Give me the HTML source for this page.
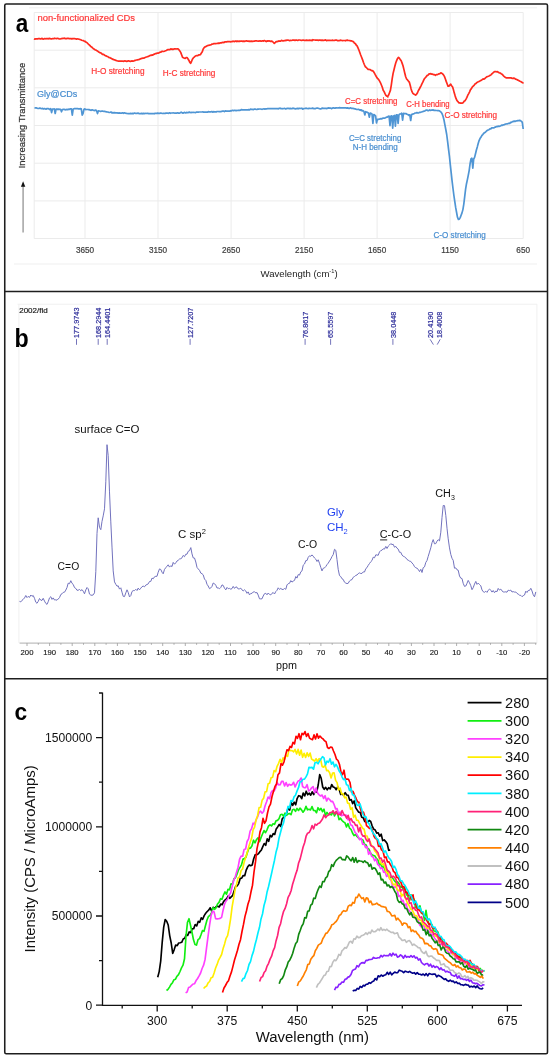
<!DOCTYPE html><html><head><meta charset="utf-8"><title>Figure</title><style>html,body{margin:0;padding:0;background:#fff;}svg{display:block;}text{font-family:"Liberation Sans",Arial,sans-serif;}</style></head><body>
<svg width="550" height="1057" viewBox="0 0 550 1057">
<rect x="0" y="0" width="550" height="1057" fill="#fff"/>
<path d="M29 7.8H537M14 264H537" stroke="#efefef" stroke-width="1" fill="none"/>
<path d="M34.2 12.5H523.2M34.2 50.2H523.2M34.2 87.8H523.2M34.2 125.5H523.2M34.2 163.2H523.2M34.2 200.9H523.2M34.2 238.5H523.2M34.2 12.5V238.5M85.0 12.5V238.5M158.0 12.5V238.5M231.1 12.5V238.5M304.1 12.5V238.5M377.1 12.5V238.5M450.1 12.5V238.5M523.2 12.5V238.5" stroke="#ebebeb" stroke-width="1" fill="none"/>
<path d="M34.0 38.7L34.9 39.2L35.8 38.8L36.7 38.9L37.6 38.9L38.5 38.7L39.4 38.6L40.3 38.9L41.2 38.8L42.1 38.4L43.0 39.2L43.9 38.9L44.8 38.5L45.7 38.8L46.6 38.6L47.5 38.6L48.4 38.8L49.3 38.4L50.2 38.7L51.1 38.9L52.0 38.8L52.9 38.5L53.8 38.7L54.7 38.2L55.6 38.5L56.5 38.6L57.4 38.3L58.3 38.5L59.2 38.9L60.1 39.0L61.0 38.7L61.9 38.7L62.8 38.3L63.7 38.3L64.6 38.2L65.5 38.6L66.4 38.7L67.3 38.4L68.2 38.3L69.1 38.6L70.0 38.6L70.9 38.6L71.8 38.9L72.7 38.6L73.6 38.7L74.5 38.5L75.4 38.8L76.3 39.1L77.2 38.9L78.1 39.0L79.0 39.2L79.9 39.5L80.8 39.8L81.7 40.2L82.6 40.5L83.5 40.6L84.4 41.3L85.3 41.4L86.2 42.3L87.1 42.7L88.0 43.7L88.9 44.7L89.8 45.4L90.7 46.4L91.6 46.9L92.5 47.8L93.4 48.8L94.3 49.0L95.2 50.0L96.1 50.1L97.0 50.8L97.9 51.3L98.8 52.0L99.7 52.6L100.6 52.8L101.5 53.4L102.4 54.3L103.3 54.4L104.2 54.8L105.1 55.5L106.0 55.9L106.9 56.3L107.8 56.5L108.7 57.5L109.6 57.6L110.5 58.1L111.4 58.3L112.3 59.1L113.2 59.4L114.1 59.8L115.0 59.9L115.9 60.4L116.8 60.7L117.7 61.0L118.6 61.1L119.5 61.1L120.4 61.1L121.3 61.1L122.2 61.0L123.1 61.3L124.0 61.2L124.9 60.8L125.8 61.2L126.7 61.4L127.6 61.1L128.5 60.8L129.4 61.2L130.3 61.3L131.2 61.1L132.1 60.9L133.0 61.2L133.9 61.0L134.8 60.4L135.7 60.3L136.6 60.0L137.5 59.8L138.4 59.7L139.3 59.4L140.2 59.0L141.1 58.6L142.0 58.3L142.9 58.2L143.8 58.1L144.7 57.7L145.6 57.3L146.5 57.0L147.4 56.7L148.3 56.5L149.2 55.9L150.1 55.4L151.0 55.4L151.9 54.9L152.8 55.1L153.7 54.4L154.6 54.1L155.5 53.5L156.4 53.6L157.3 53.1L158.2 53.2L159.1 52.8L160.0 52.2L160.9 52.2L161.8 51.3L162.7 51.4L163.6 51.5L164.5 51.2L165.4 50.8L166.3 50.5L167.2 49.9L168.1 49.6L169.0 49.6L169.9 49.7L170.8 48.8L171.7 49.3L172.6 49.2L173.5 49.3L174.4 48.9L175.3 48.9L176.2 49.0L177.1 48.8L178.0 48.9L178.9 49.7L179.8 50.9L180.7 52.4L181.6 54.8L182.5 57.1L183.4 57.8L184.3 58.1L185.2 58.3L186.1 57.6L187.0 57.5L187.9 58.7L188.8 60.2L189.7 62.2L190.6 63.3L191.5 61.5L192.4 59.2L193.3 57.9L194.2 57.2L195.1 56.2L196.0 55.8L196.9 55.5L197.8 55.6L198.7 54.8L199.6 54.9L200.5 54.4L201.4 53.1L202.3 51.8L203.2 48.9L204.1 47.7L205.0 46.8L205.9 46.6L206.8 46.0L207.7 45.5L208.6 45.3L209.5 45.1L210.4 45.0L211.3 44.6L212.2 44.1L213.1 44.0L214.0 43.5L214.9 43.6L215.8 43.7L216.7 43.5L217.6 43.3L218.5 43.1L219.4 43.3L220.3 42.9L221.2 42.9L222.1 42.6L223.0 42.3L223.9 42.6L224.8 41.9L225.7 41.8L226.6 41.8L227.5 41.6L228.4 41.6L229.3 41.5L230.2 41.8L231.1 41.6L232.0 41.6L232.9 41.2L233.8 41.3L234.7 41.6L235.6 41.1L236.5 41.6L237.4 41.1L238.3 41.3L239.2 41.1L240.1 41.3L241.0 41.0L241.9 41.1L242.8 41.5L243.7 41.1L244.6 41.5L245.5 41.0L246.4 40.9L247.3 41.1L248.2 41.0L249.1 41.4L250.0 41.2L250.9 41.3L251.8 41.1L252.7 41.5L253.6 41.2L254.5 41.1L255.4 40.8L256.3 40.8L257.2 41.0L258.1 41.2L259.0 41.2L259.9 40.8L260.8 41.1L261.7 41.1L262.6 40.8L263.5 41.1L264.4 40.6L265.3 41.1L266.2 41.6L267.1 40.9L268.0 41.1L268.9 40.8L269.8 41.1L270.7 41.4L271.6 41.1L272.5 41.5L273.4 42.5L274.3 43.4L275.2 42.7L276.1 41.6L277.0 41.6L277.9 41.4L278.8 40.9L279.7 41.2L280.6 41.1L281.5 40.4L282.4 40.8L283.3 40.8L284.2 40.7L285.1 40.6L286.0 40.2L286.9 40.3L287.8 40.0L288.7 40.3L289.6 40.7L290.5 40.4L291.4 40.5L292.3 40.2L293.2 40.1L294.1 40.1L295.0 40.3L295.9 40.1L296.8 40.2L297.7 40.5L298.6 40.0L299.5 40.0L300.4 40.2L301.3 40.3L302.2 40.3L303.1 40.0L304.0 40.3L304.9 40.3L305.8 40.4L306.7 40.1L307.6 40.3L308.5 40.3L309.4 40.2L310.3 40.3L311.2 40.2L312.1 40.6L313.0 39.7L313.9 40.0L314.8 40.0L315.7 40.2L316.6 40.2L317.5 40.2L318.4 40.4L319.3 40.0L320.2 40.1L321.1 40.3L322.0 40.1L322.9 40.4L323.8 40.4L324.7 40.2L325.6 39.9L326.5 40.6L327.4 40.4L328.3 40.4L329.2 40.3L330.1 40.3L331.0 40.5L331.9 40.3L332.8 40.2L333.7 40.5L334.6 40.3L335.5 40.2L336.4 40.1L337.3 40.6L338.2 40.5L339.1 40.7L340.0 40.3L340.9 40.2L341.8 40.5L342.7 40.7L343.6 40.5L344.5 40.5L345.4 40.8L346.3 40.3L347.2 40.2L348.1 40.4L349.0 40.5L349.9 40.6L350.8 40.8L351.7 40.8L352.6 41.5L353.5 41.7L354.4 43.1L355.3 43.5L356.2 45.0L357.1 45.8L358.0 47.9L358.9 50.0L359.8 52.5L360.7 55.0L361.6 57.2L362.5 59.6L363.4 62.3L364.3 64.5L365.2 66.5L366.1 67.3L367.0 68.3L367.9 69.3L368.8 69.4L369.7 69.5L370.6 69.9L371.5 70.6L372.4 70.7L373.3 71.3L374.2 72.7L375.1 74.4L376.0 76.0L376.9 77.6L377.8 78.7L378.7 79.6L379.6 81.2L380.5 82.8L381.4 85.0L382.3 87.3L383.2 90.2L384.1 91.6L385.0 93.7L385.9 95.4L386.8 96.2L387.7 96.4L388.6 95.1L389.5 92.8L390.4 90.4L391.3 85.1L392.2 78.6L393.1 73.4L394.0 69.7L394.9 66.0L395.8 62.8L396.7 60.4L397.6 58.3L398.5 57.5L399.4 58.2L400.3 59.6L401.2 60.7L402.1 63.1L403.0 65.7L403.9 69.4L404.8 73.2L405.7 76.8L406.6 79.0L407.5 79.9L408.4 81.1L409.3 82.1L410.2 85.2L411.1 88.9L412.0 91.7L412.9 93.3L413.8 94.0L414.7 94.6L415.6 95.1L416.5 94.3L417.4 93.0L418.3 90.8L419.2 89.3L420.1 87.5L421.0 85.8L421.9 83.8L422.8 82.2L423.7 80.2L424.6 78.3L425.5 77.6L426.4 76.4L427.3 75.4L428.2 75.0L429.1 73.9L430.0 73.8L430.9 73.6L431.8 74.2L432.7 74.2L433.6 74.7L434.5 74.7L435.4 75.4L436.3 74.7L437.2 74.7L438.1 74.3L439.0 73.8L439.9 73.6L440.8 72.8L441.7 73.3L442.6 73.9L443.5 74.9L444.4 76.4L445.3 78.8L446.2 81.4L447.1 83.8L448.0 86.2L448.9 86.1L449.8 85.1L450.7 84.2L451.6 85.7L452.5 86.8L453.4 89.6L454.3 93.1L455.2 96.1L456.1 98.7L457.0 100.6L457.9 101.5L458.8 102.9L459.7 102.9L460.6 103.1L461.5 103.1L462.4 103.1L463.3 102.5L464.2 101.1L465.1 100.7L466.0 99.1L466.9 97.4L467.8 95.2L468.7 93.6L469.6 91.8L470.5 89.7L471.4 88.6L472.3 87.0L473.2 86.1L474.1 85.3L475.0 84.0L475.9 83.5L476.8 82.7L477.7 82.0L478.6 81.7L479.5 81.1L480.4 80.8L481.3 80.3L482.2 79.6L483.1 78.9L484.0 79.2L484.9 78.5L485.8 77.6L486.7 76.9L487.6 76.5L488.5 76.2L489.4 75.8L490.3 75.3L491.2 74.6L492.1 73.6L493.0 72.9L493.9 72.0L494.8 71.6L495.7 71.5L496.6 71.8L497.5 71.7L498.4 72.4L499.3 72.8L500.2 73.0L501.1 73.7L502.0 74.2L502.9 75.1L503.8 76.1L504.7 77.0L505.6 77.4L506.5 77.9L507.4 77.8L508.3 77.9L509.2 77.9L510.1 77.8L511.0 77.9L511.9 78.3L512.8 78.3L513.7 78.2L514.6 78.4L515.5 79.2L516.4 79.3L517.3 79.9L518.2 80.3L519.1 80.8L520.0 81.3L520.9 81.6L521.8 82.2L522.7 82.8L523.6 83.1" stroke="#ff2a1e" stroke-width="1.7" fill="none" stroke-linejoin="round"/>
<path d="M34.5 107.8L35.4 107.9L36.3 107.9L37.2 108.2L38.1 108.5L39.0 108.4L39.9 108.0L40.8 108.5L41.7 108.7L42.6 108.4L43.5 109.0L44.4 108.5L45.3 108.9L46.2 109.2L47.1 108.5L48.0 108.7L48.9 108.9L49.8 109.5L50.7 108.6L51.6 112.6L52.5 109.1L53.4 109.0L54.3 108.9L55.2 113.5L56.1 109.1L57.0 109.0L57.9 109.6L58.8 109.1L59.7 109.3L60.6 109.3L61.5 111.8L62.4 109.5L63.3 109.3L64.2 109.4L65.1 109.8L66.0 109.7L66.9 109.4L67.8 109.6L68.7 109.2L69.6 109.3L70.5 108.8L71.4 108.8L72.3 115.2L73.2 109.0L74.1 108.7L75.0 108.7L75.9 108.6L76.8 108.7L77.7 108.7L78.6 108.9L79.5 108.8L80.4 108.7L81.3 108.8L82.2 115.2L83.1 113.4L84.0 109.3L84.9 108.9L85.8 109.6L86.7 109.5L87.6 109.5L88.5 109.6L89.4 109.6L90.3 110.2L91.2 110.3L92.1 109.8L93.0 110.1L93.9 110.3L94.8 110.6L95.7 110.0L96.6 110.8L97.5 113.6L98.4 110.8L99.3 111.0L100.2 111.3L101.1 111.3L102.0 111.0L102.9 111.2L103.8 111.3L104.7 111.4L105.6 111.7L106.5 111.8L107.4 112.0L108.3 112.2L109.2 112.5L110.1 112.3L111.0 112.0L111.9 112.8L112.8 112.6L113.7 112.9L114.6 112.6L115.5 112.9L116.4 112.8L117.3 112.9L118.2 113.2L119.1 112.9L120.0 113.1L120.9 113.2L121.8 113.1L122.7 112.8L123.6 113.4L124.5 112.8L125.4 113.1L126.3 113.3L127.2 113.5L128.1 113.7L129.0 113.7L129.9 113.6L130.8 113.4L131.7 113.7L132.6 113.4L133.5 113.7L134.4 113.0L135.3 113.3L136.2 113.4L137.1 113.5L138.0 113.0L138.9 113.6L139.8 113.7L140.7 113.6L141.6 113.4L142.5 113.8L143.4 113.4L144.3 113.6L145.2 113.4L146.1 113.5L147.0 113.4L147.9 113.4L148.8 113.7L149.7 113.7L150.6 113.7L151.5 113.6L152.4 113.6L153.3 113.5L154.2 113.8L155.1 113.3L156.0 113.3L156.9 113.4L157.8 113.1L158.7 113.3L159.6 113.4L160.5 113.2L161.4 113.2L162.3 113.5L163.2 113.3L164.1 113.3L165.0 113.5L165.9 113.1L166.8 113.0L167.7 113.2L168.6 113.3L169.5 112.8L170.4 113.3L171.3 113.0L172.2 113.0L173.1 112.9L174.0 113.0L174.9 113.2L175.8 113.0L176.7 113.1L177.6 112.8L178.5 113.2L179.4 113.1L180.3 112.8L181.2 112.2L182.1 112.7L183.0 113.2L183.9 112.6L184.8 112.4L185.7 112.9L186.6 112.4L187.5 112.6L188.4 112.6L189.3 112.1L190.2 112.4L191.1 112.6L192.0 112.3L192.9 112.5L193.8 112.3L194.7 112.5L195.6 112.6L196.5 112.0L197.4 112.1L198.3 112.2L199.2 112.0L200.1 112.0L201.0 112.0L201.9 112.0L202.8 111.9L203.7 112.1L204.6 112.2L205.5 112.1L206.4 112.1L207.3 112.2L208.2 111.6L209.1 111.9L210.0 111.9L210.9 111.9L211.8 111.5L212.7 112.2L213.6 111.6L214.5 111.8L215.4 111.8L216.3 111.9L217.2 111.5L218.1 111.5L219.0 111.6L219.9 111.6L220.8 111.6L221.7 111.4L222.6 111.2L223.5 111.0L224.4 111.6L225.3 110.9L226.2 111.2L227.1 111.1L228.0 111.1L228.9 111.1L229.8 111.1L230.7 110.7L231.6 110.8L232.5 110.3L233.4 110.6L234.3 110.4L235.2 110.4L236.1 110.7L237.0 110.4L237.9 110.5L238.8 110.2L239.7 110.3L240.6 110.1L241.5 109.6L242.4 109.9L243.3 109.9L244.2 109.9L245.1 109.9L246.0 109.8L246.9 109.9L247.8 109.8L248.7 109.6L249.6 109.8L250.5 109.1L251.4 109.4L252.3 109.4L253.2 109.6L254.1 109.2L255.0 109.0L255.9 109.3L256.8 109.5L257.7 109.1L258.6 109.1L259.5 109.0L260.4 109.0L261.3 109.2L262.2 109.3L263.1 109.0L264.0 108.8L264.9 109.2L265.8 108.8L266.7 108.8L267.6 108.7L268.5 108.7L269.4 108.7L270.3 108.6L271.2 108.7L272.1 108.7L273.0 108.7L273.9 108.5L274.8 108.6L275.7 108.6L276.6 108.6L277.5 108.6L278.4 108.8L279.3 108.3L280.2 108.2L281.1 108.7L282.0 108.5L282.9 108.8L283.8 108.5L284.7 108.3L285.6 109.0L286.5 108.6L287.4 108.4L288.3 108.4L289.2 108.6L290.1 108.4L291.0 108.6L291.9 108.7L292.8 108.2L293.7 108.4L294.6 108.6L295.5 108.8L296.4 108.7L297.3 108.4L298.2 108.8L299.1 108.4L300.0 108.4L300.9 108.5L301.8 108.2L302.7 109.1L303.6 108.7L304.5 108.5L305.4 108.3L306.3 108.2L307.2 108.5L308.1 108.6L309.0 108.4L309.9 108.4L310.8 108.5L311.7 108.4L312.6 108.1L313.5 108.6L314.4 108.5L315.3 108.6L316.2 108.3L317.1 108.0L318.0 108.2L318.9 108.5L319.8 108.8L320.7 108.9L321.6 108.4L322.5 108.1L323.4 108.3L324.3 108.4L325.2 108.4L326.1 108.4L327.0 108.6L327.9 108.1L328.8 107.9L329.7 108.1L330.6 108.0L331.5 108.7L332.4 108.1L333.3 107.8L334.2 108.1L335.1 108.1L336.0 107.9L336.9 107.8L337.8 108.0L338.7 107.8L339.6 107.6L340.5 107.8L341.4 107.9L342.3 107.8L343.2 107.9L344.1 107.9L345.0 107.8L345.9 107.9L346.8 108.1L347.7 107.9L348.6 108.3L349.5 108.4L350.4 107.8L351.3 108.3L352.2 108.3L353.1 108.4L354.0 108.7L354.9 108.8L355.8 109.1L356.7 109.3L357.6 109.5L358.5 109.4L359.4 109.7L360.3 110.3L361.2 109.8L362.1 110.9L363.0 110.7L363.9 111.4L364.8 114.9L365.7 111.7L366.6 112.2L367.5 112.4L368.4 112.9L369.3 117.2L370.2 113.1L371.1 113.4L372.0 113.9L372.9 123.3L373.8 114.6L374.7 115.1L375.6 115.8L376.5 123.0L377.4 119.3L378.3 119.4L379.2 119.2L380.1 118.9L381.0 118.7L381.9 118.9L382.8 118.2L383.7 118.2L384.6 118.1L385.5 117.7L386.4 117.2L387.3 117.2L388.2 116.4L389.1 116.2L390.0 125.7L390.9 116.0L391.8 115.9L392.7 128.1L393.6 115.9L394.5 115.4L395.4 126.2L396.3 114.8L397.2 114.9L398.1 123.4L399.0 114.7L399.9 114.0L400.8 113.9L401.7 113.2L402.6 120.1L403.5 113.3L404.4 113.7L405.3 113.6L406.2 113.7L407.1 114.3L408.0 114.6L408.9 115.3L409.8 114.8L410.7 120.5L411.6 114.5L412.5 114.1L413.4 113.9L414.3 113.5L415.2 113.0L416.1 112.9L417.0 112.6L417.9 113.0L418.8 112.8L419.7 112.3L420.6 112.3L421.5 112.0L422.4 111.7L423.3 111.4L424.2 111.2L425.1 110.8L426.0 110.2L426.9 110.0L427.8 110.7L428.7 110.6L429.6 109.9L430.5 110.4L431.4 110.2L432.3 110.2L433.2 109.8L434.1 110.5L435.0 110.3L435.9 110.5L436.8 110.5L437.7 110.6L438.6 110.7L439.5 110.8L440.4 111.6L441.3 112.4L442.2 114.0L443.1 116.5L444.0 120.0L444.9 124.9L445.8 129.5L446.7 134.5L447.6 141.4L448.5 148.9L449.4 156.0L450.3 164.7L451.2 172.9L452.1 181.2L453.0 188.5L453.9 195.5L454.8 201.7L455.7 207.7L456.6 212.5L457.5 217.3L458.4 219.5L459.3 219.2L460.2 217.6L461.1 215.3L462.0 212.9L462.9 209.6L463.8 204.1L464.7 196.7L465.6 189.1L466.5 183.7L467.4 179.6L468.3 175.2L469.2 170.3L470.1 163.7L471.0 159.0L471.9 158.2L472.8 168.1L473.7 159.0L474.6 157.4L475.5 153.8L476.4 150.0L477.3 146.9L478.2 143.5L479.1 140.6L480.0 138.6L480.9 137.3L481.8 135.6L482.7 134.6L483.6 133.5L484.5 132.7L485.4 132.2L486.3 131.2L487.2 130.5L488.1 130.0L489.0 129.7L489.9 128.9L490.8 128.9L491.7 127.8L492.6 127.8L493.5 127.9L494.4 127.6L495.3 127.1L496.2 126.7L497.1 126.7L498.0 126.2L498.9 126.4L499.8 126.1L500.7 125.7L501.6 125.2L502.5 125.3L503.4 124.8L504.3 124.6L505.2 124.2L506.1 124.0L507.0 123.8L507.9 123.6L508.8 123.3L509.7 123.5L510.6 122.4L511.5 122.4L512.4 121.7L513.3 121.6L514.2 121.1L515.1 121.4L516.0 121.0L516.9 120.8L517.8 120.6L518.7 120.7L519.6 120.4L520.5 120.6L521.4 121.3L522.3 122.4L523.2 129.0" stroke="#4f95d4" stroke-width="1.7" fill="none" stroke-linejoin="round"/>
<text x="37.6" y="21.2" font-size="9.6" fill="#ff3a3a" textLength="97.5" lengthAdjust="spacingAndGlyphs" stroke="#ff3a3a" stroke-width="0.22">non-functionalized CDs</text>
<text x="91.2" y="74.3" font-size="8.7" fill="#ff3a3a" textLength="53.3" lengthAdjust="spacingAndGlyphs" stroke="#ff3a3a" stroke-width="0.22">H-O stretching</text>
<text x="162.8" y="75.7" font-size="8.7" fill="#ff3a3a" textLength="52.5" lengthAdjust="spacingAndGlyphs" stroke="#ff3a3a" stroke-width="0.22">H-C stretching</text>
<text x="37.1" y="96.9" font-size="9.3" fill="#4a8fd0" textLength="40.2" lengthAdjust="spacingAndGlyphs" stroke="#4a8fd0" stroke-width="0.22">Gly@CDs</text>
<text x="345" y="103.7" font-size="8.7" fill="#ff3a3a" textLength="52.5" lengthAdjust="spacingAndGlyphs" stroke="#ff3a3a" stroke-width="0.22">C=C stretching</text>
<text x="406.2" y="106.6" font-size="8.7" fill="#ff3a3a" textLength="43.5" lengthAdjust="spacingAndGlyphs" stroke="#ff3a3a" stroke-width="0.22">C-H bending</text>
<text x="444.6" y="118.3" font-size="8.7" fill="#ff3a3a" textLength="52.5" lengthAdjust="spacingAndGlyphs" stroke="#ff3a3a" stroke-width="0.22">C-O stretching</text>
<text x="348.9" y="140.9" font-size="8.7" fill="#4a8fd0" textLength="52.5" lengthAdjust="spacingAndGlyphs" stroke="#4a8fd0" stroke-width="0.22">C=C stretching</text>
<text x="352.7" y="150.4" font-size="8.7" fill="#4a8fd0" textLength="45" lengthAdjust="spacingAndGlyphs" stroke="#4a8fd0" stroke-width="0.22">N-H bending</text>
<text x="433.5" y="238.1" font-size="8.7" fill="#4a8fd0" textLength="52.3" lengthAdjust="spacingAndGlyphs" stroke="#4a8fd0" stroke-width="0.22">C-O stretching</text>
<text x="25" y="168.3" font-size="9.5" fill="#333" textLength="105.5" lengthAdjust="spacingAndGlyphs" transform="rotate(-90 25 168.3)" stroke="#333" stroke-width="0.22">Increasing Transmittance</text>
<path d="M23.1 232.6V186" stroke="#a8a8a8" stroke-width="1.6"/><path d="M23.1 181.2L20.9 186.8L25.3 186.8Z" fill="#111"/>
<text x="85.0" y="252.6" font-size="8.2" fill="#404040" text-anchor="middle" stroke="#404040" stroke-width="0.2">3650</text>
<text x="158.0" y="252.6" font-size="8.2" fill="#404040" text-anchor="middle" stroke="#404040" stroke-width="0.2">3150</text>
<text x="231.1" y="252.6" font-size="8.2" fill="#404040" text-anchor="middle" stroke="#404040" stroke-width="0.2">2650</text>
<text x="304.1" y="252.6" font-size="8.2" fill="#404040" text-anchor="middle" stroke="#404040" stroke-width="0.2">2150</text>
<text x="377.1" y="252.6" font-size="8.2" fill="#404040" text-anchor="middle" stroke="#404040" stroke-width="0.2">1650</text>
<text x="450.1" y="252.6" font-size="8.2" fill="#404040" text-anchor="middle" stroke="#404040" stroke-width="0.2">1150</text>
<text x="523.2" y="252.6" font-size="8.2" fill="#404040" text-anchor="middle" stroke="#404040" stroke-width="0.2">650</text>
<text x="260.6" y="276.8" font-size="9.3" fill="#222" textLength="77" lengthAdjust="spacingAndGlyphs">Wavelength (cm<tspan font-size="5.5" dy="-3.5">-1</tspan><tspan dy="3.5">)</tspan></text>
<text x="0" y="0" font-size="25" fill="#000" font-weight="bold" transform="translate(15.8 32.3) scale(0.9 1)">a</text>
<path d="M17.5 304.2H537M18.9 304.2V643.1M536.9 304.2V643.1" stroke="#f0f0f0" stroke-width="1" fill="none"/>
<text x="19.2" y="313.3" font-size="8.1" fill="#222" textLength="28.5" lengthAdjust="spacingAndGlyphs" stroke="#222" stroke-width="0.2">2002/fid</text>
<text x="0" y="0" font-size="25" fill="#000" font-weight="bold" transform="translate(14.6 346.6) scale(0.93 1)">b</text>
<text x="79.25" y="338.0" font-size="7.3" fill="#2d2d9a" transform="rotate(-90 79.25 338.0)" stroke="#2d2d9a" stroke-width="0.2">177.9743</text>
<text x="100.95" y="338.0" font-size="7.3" fill="#2d2d9a" transform="rotate(-90 100.95 338.0)" stroke="#2d2d9a" stroke-width="0.2">168.2944</text>
<text x="109.95" y="338.0" font-size="7.3" fill="#2d2d9a" transform="rotate(-90 109.95 338.0)" stroke="#2d2d9a" stroke-width="0.2">164.4401</text>
<text x="192.85" y="338.0" font-size="7.3" fill="#2d2d9a" transform="rotate(-90 192.85 338.0)" stroke="#2d2d9a" stroke-width="0.2">127.7207</text>
<text x="307.85" y="338.0" font-size="7.3" fill="#2d2d9a" transform="rotate(-90 307.85 338.0)" stroke="#2d2d9a" stroke-width="0.2">76.8617</text>
<text x="333.35" y="338.0" font-size="7.3" fill="#2d2d9a" transform="rotate(-90 333.35 338.0)" stroke="#2d2d9a" stroke-width="0.2">65.5597</text>
<text x="395.65" y="338.0" font-size="7.3" fill="#2d2d9a" transform="rotate(-90 395.65 338.0)" stroke="#2d2d9a" stroke-width="0.2">38.0448</text>
<text x="432.95" y="338.0" font-size="7.3" fill="#2d2d9a" transform="rotate(-90 432.95 338.0)" stroke="#2d2d9a" stroke-width="0.2">20.4190</text>
<text x="442.35" y="338.0" font-size="7.3" fill="#2d2d9a" transform="rotate(-90 442.35 338.0)" stroke="#2d2d9a" stroke-width="0.2">18.4008</text>
<path d="M76.5 338.9V344.8M98.2 338.9V344.8M107.2 338.9V344.8M190.1 338.9V344.8M305.1 338.9V344.8M330.6 338.9V344.8M392.9 338.9V344.8M430.1 339.3L433.4 344.6M440.2 339.3L437.2 344.6" stroke="#5050a8" stroke-width="0.8" fill="none"/>
<path d="M19.5 601.4L20.8 601.9L22.0 600.3L23.2 599.4L24.5 597.9L25.8 595.5L27.0 597.6L28.2 596.4L29.5 597.4L30.8 595.0L32.0 596.3L33.2 595.5L34.5 598.3L35.8 602.2L37.0 603.3L38.2 601.4L39.5 598.5L40.8 600.2L42.0 600.4L43.2 598.3L44.5 601.1L45.8 603.4L47.0 604.4L48.2 601.7L49.5 597.9L50.8 596.7L52.0 599.4L53.2 597.9L54.5 600.0L55.8 599.8L57.0 600.2L58.2 599.0L59.5 597.6L60.8 594.5L62.0 593.8L63.2 592.4L64.5 592.2L65.8 590.1L67.0 587.5L68.2 583.2L69.5 583.7L70.8 580.7L72.0 583.3L73.2 584.4L74.5 587.6L75.8 588.4L77.0 590.3L78.2 590.2L79.5 589.5L80.8 590.7L82.0 589.6L83.2 591.2L84.5 593.8L85.8 589.9L87.0 587.5L88.2 588.8L89.5 594.1L90.8 595.1L92.0 595.3L93.2 594.9L94.5 592.8L95.8 571.7L97.0 533.4L98.2 517.8L99.5 527.4L100.8 529.7L102.0 521.4L103.2 515.9L104.5 508.8L105.8 481.8L107.0 444.7L108.2 455.6L109.5 491.9L110.8 521.9L112.0 547.1L113.2 570.9L114.5 581.9L115.8 584.3L117.0 586.2L118.2 585.8L119.5 589.1L120.8 587.8L122.0 592.2L123.2 596.3L124.5 596.6L125.8 592.9L127.0 589.8L128.2 592.4L129.5 596.9L130.8 595.6L132.0 591.5L133.2 590.6L134.5 590.6L135.8 589.3L137.0 590.5L138.2 588.1L139.5 589.8L140.8 588.2L142.0 586.7L143.2 586.1L144.5 586.8L145.8 585.1L147.0 584.5L148.2 583.9L149.5 581.5L150.8 581.4L152.0 578.1L153.2 578.8L154.5 576.8L155.8 576.3L157.0 576.3L158.2 572.2L159.5 568.9L160.8 569.5L162.0 572.2L163.2 573.8L164.5 569.4L165.8 567.7L167.0 566.2L168.2 564.8L169.5 567.1L170.8 565.7L172.0 566.6L173.2 562.4L174.5 564.2L175.8 562.8L177.0 561.0L178.2 560.3L179.5 559.0L180.8 558.7L182.0 557.8L183.2 555.4L184.5 556.7L185.8 554.2L187.0 554.2L188.2 551.3L189.5 550.7L190.8 547.6L192.0 553.9L193.2 557.9L194.5 558.0L195.8 562.0L197.0 567.4L198.2 568.9L199.5 570.3L200.8 573.1L202.0 573.7L203.2 574.8L204.5 579.1L205.8 580.4L207.0 584.3L208.2 586.0L209.5 588.7L210.8 587.9L212.0 586.4L213.2 583.0L214.5 583.7L215.8 585.3L217.0 588.0L218.2 587.9L219.5 588.7L220.8 587.4L222.0 584.9L223.2 585.4L224.5 588.2L225.8 589.9L227.0 587.4L228.2 588.7L229.5 588.4L230.8 589.2L232.0 588.6L233.2 586.4L234.5 588.4L235.8 586.9L237.0 587.2L238.2 589.0L239.5 588.8L240.8 588.2L242.0 589.9L243.2 590.9L244.5 589.8L245.8 591.0L247.0 593.3L248.2 591.9L249.5 594.9L250.8 593.4L252.0 593.4L253.2 592.0L254.5 591.7L255.8 593.0L257.0 592.5L258.2 595.1L259.5 598.8L260.8 598.9L262.0 598.8L263.2 596.0L264.5 593.7L265.8 593.3L267.0 594.8L268.2 593.0L269.5 594.4L270.8 594.9L272.0 593.3L273.2 592.5L274.5 594.0L275.8 591.5L277.0 590.3L278.2 587.8L279.5 589.4L280.8 588.4L282.0 589.4L283.2 589.5L284.5 588.5L285.8 589.3L287.0 584.9L288.2 583.7L289.5 583.3L290.8 580.6L292.0 582.1L293.2 581.1L294.5 580.4L295.8 576.5L297.0 578.1L298.2 574.6L299.5 575.1L300.8 571.8L302.0 570.9L303.2 565.2L304.5 564.0L305.8 560.6L307.0 560.6L308.2 557.4L309.5 555.8L310.8 556.3L312.0 554.9L313.2 556.2L314.5 558.0L315.8 559.2L317.0 561.5L318.2 559.8L319.5 563.3L320.8 567.4L322.0 570.9L323.2 568.3L324.5 567.9L325.8 566.5L327.0 564.6L328.2 563.2L329.5 561.0L330.8 559.0L332.0 556.5L333.2 554.7L334.5 549.3L335.8 550.4L337.0 559.6L338.2 569.3L339.5 575.6L340.8 576.6L342.0 578.8L343.2 579.4L344.5 582.2L345.8 583.1L347.0 583.6L348.2 583.3L349.5 581.0L350.8 580.0L352.0 579.6L353.2 577.3L354.5 576.5L355.8 575.4L357.0 575.0L358.2 573.6L359.5 572.9L360.8 573.5L362.0 573.4L363.2 571.9L364.5 572.0L365.8 568.6L367.0 567.6L368.2 565.4L369.5 563.5L370.8 561.7L372.0 560.5L373.2 557.2L374.5 557.8L375.8 554.8L377.0 555.0L378.2 555.3L379.5 551.9L380.8 550.5L382.0 550.2L383.2 548.8L384.5 549.1L385.8 546.4L387.0 548.5L388.2 546.3L389.5 545.0L390.8 543.6L392.0 544.6L393.2 544.3L394.5 547.2L395.8 546.4L397.0 548.2L398.2 549.1L399.5 552.3L400.8 552.3L402.0 555.1L403.2 556.2L404.5 556.8L405.8 557.8L407.0 559.5L408.2 560.2L409.5 561.1L410.8 561.4L412.0 563.0L413.2 564.2L414.5 566.7L415.8 567.7L417.0 568.3L418.2 569.3L419.5 571.6L420.8 569.3L422.0 572.5L423.2 567.7L424.5 566.9L425.8 562.4L427.0 560.5L428.2 556.4L429.5 552.1L430.8 547.8L432.0 542.7L433.2 539.6L434.5 543.8L435.8 543.6L437.0 541.2L438.2 539.7L439.5 540.9L440.8 532.2L442.0 517.6L443.2 505.5L444.5 505.6L445.8 515.4L447.0 528.2L448.2 538.8L449.5 547.9L450.8 554.5L452.0 558.3L453.2 560.3L454.5 568.2L455.8 567.9L457.0 569.8L458.2 570.2L459.5 576.0L460.8 578.2L462.0 578.5L463.2 583.3L464.5 586.4L465.8 586.0L467.0 583.3L468.2 580.4L469.5 582.8L470.8 585.7L472.0 589.7L473.2 587.7L474.5 584.1L475.8 581.4L477.0 584.4L478.2 583.1L479.5 584.5L480.8 585.8L482.0 589.9L483.2 591.7L484.5 592.3L485.8 591.2L487.0 592.4L488.2 590.3L489.5 589.0L490.8 590.3L492.0 592.1L493.2 590.5L494.5 592.7L495.8 591.0L497.0 591.7L498.2 588.4L499.5 590.1L500.8 589.1L502.0 590.9L503.2 591.9L504.5 592.0L505.8 591.8L507.0 592.2L508.2 590.2L509.5 590.6L510.8 590.1L512.0 592.0L513.2 591.6L514.5 592.1L515.8 592.0L517.0 593.4L518.2 594.1L519.5 595.2L520.8 595.4L522.0 596.7L523.2 595.7L524.5 595.0L525.8 591.2L527.0 592.5L528.2 590.5L529.5 590.4L530.8 588.3L532.0 591.0L533.2 594.7L534.5 596.8L535.8 591.9" stroke="#7272be" stroke-width="1" fill="none" stroke-linejoin="round"/>
<path d="M19.6 643.1H536.5M27.0 643.1V646.0M38.3 643.1V644.8M49.6 643.1V646.0M60.9 643.1V644.8M72.2 643.1V646.0M83.5 643.1V644.8M94.8 643.1V646.0M106.1 643.1V644.8M117.4 643.1V646.0M128.7 643.1V644.8M140.0 643.1V646.0M151.4 643.1V644.8M162.7 643.1V646.0M174.0 643.1V644.8M185.3 643.1V646.0M196.6 643.1V644.8M207.9 643.1V646.0M219.2 643.1V644.8M230.5 643.1V646.0M241.8 643.1V644.8M253.1 643.1V646.0M264.4 643.1V644.8M275.7 643.1V646.0M287.0 643.1V644.8M298.3 643.1V646.0M309.6 643.1V644.8M320.9 643.1V646.0M332.2 643.1V644.8M343.5 643.1V646.0M354.8 643.1V644.8M366.1 643.1V646.0M377.5 643.1V644.8M388.8 643.1V646.0M400.1 643.1V644.8M411.4 643.1V646.0M422.7 643.1V644.8M434.0 643.1V646.0M445.3 643.1V644.8M456.6 643.1V646.0M467.9 643.1V644.8M479.2 643.1V646.0M490.5 643.1V644.8M501.8 643.1V646.0M513.1 643.1V644.8M524.4 643.1V646.0M535.7 643.1V644.8" stroke="#9a9a9a" stroke-width="0.8" fill="none"/>
<text x="27.0" y="654.8" font-size="7.7" fill="#1a1a1a" text-anchor="middle" stroke="#1a1a1a" stroke-width="0.15">200</text>
<text x="49.6" y="654.8" font-size="7.7" fill="#1a1a1a" text-anchor="middle" stroke="#1a1a1a" stroke-width="0.15">190</text>
<text x="72.2" y="654.8" font-size="7.7" fill="#1a1a1a" text-anchor="middle" stroke="#1a1a1a" stroke-width="0.15">180</text>
<text x="94.8" y="654.8" font-size="7.7" fill="#1a1a1a" text-anchor="middle" stroke="#1a1a1a" stroke-width="0.15">170</text>
<text x="117.4" y="654.8" font-size="7.7" fill="#1a1a1a" text-anchor="middle" stroke="#1a1a1a" stroke-width="0.15">160</text>
<text x="140.0" y="654.8" font-size="7.7" fill="#1a1a1a" text-anchor="middle" stroke="#1a1a1a" stroke-width="0.15">150</text>
<text x="162.7" y="654.8" font-size="7.7" fill="#1a1a1a" text-anchor="middle" stroke="#1a1a1a" stroke-width="0.15">140</text>
<text x="185.3" y="654.8" font-size="7.7" fill="#1a1a1a" text-anchor="middle" stroke="#1a1a1a" stroke-width="0.15">130</text>
<text x="207.9" y="654.8" font-size="7.7" fill="#1a1a1a" text-anchor="middle" stroke="#1a1a1a" stroke-width="0.15">120</text>
<text x="230.5" y="654.8" font-size="7.7" fill="#1a1a1a" text-anchor="middle" stroke="#1a1a1a" stroke-width="0.15">110</text>
<text x="253.1" y="654.8" font-size="7.7" fill="#1a1a1a" text-anchor="middle" stroke="#1a1a1a" stroke-width="0.15">100</text>
<text x="275.7" y="654.8" font-size="7.7" fill="#1a1a1a" text-anchor="middle" stroke="#1a1a1a" stroke-width="0.15">90</text>
<text x="298.3" y="654.8" font-size="7.7" fill="#1a1a1a" text-anchor="middle" stroke="#1a1a1a" stroke-width="0.15">80</text>
<text x="320.9" y="654.8" font-size="7.7" fill="#1a1a1a" text-anchor="middle" stroke="#1a1a1a" stroke-width="0.15">70</text>
<text x="343.5" y="654.8" font-size="7.7" fill="#1a1a1a" text-anchor="middle" stroke="#1a1a1a" stroke-width="0.15">60</text>
<text x="366.1" y="654.8" font-size="7.7" fill="#1a1a1a" text-anchor="middle" stroke="#1a1a1a" stroke-width="0.15">50</text>
<text x="388.8" y="654.8" font-size="7.7" fill="#1a1a1a" text-anchor="middle" stroke="#1a1a1a" stroke-width="0.15">40</text>
<text x="411.4" y="654.8" font-size="7.7" fill="#1a1a1a" text-anchor="middle" stroke="#1a1a1a" stroke-width="0.15">30</text>
<text x="434.0" y="654.8" font-size="7.7" fill="#1a1a1a" text-anchor="middle" stroke="#1a1a1a" stroke-width="0.15">20</text>
<text x="456.6" y="654.8" font-size="7.7" fill="#1a1a1a" text-anchor="middle" stroke="#1a1a1a" stroke-width="0.15">10</text>
<text x="479.2" y="654.8" font-size="7.7" fill="#1a1a1a" text-anchor="middle" stroke="#1a1a1a" stroke-width="0.15">0</text>
<text x="501.8" y="654.8" font-size="7.7" fill="#1a1a1a" text-anchor="middle" stroke="#1a1a1a" stroke-width="0.15">-10</text>
<text x="524.4" y="654.8" font-size="7.7" fill="#1a1a1a" text-anchor="middle" stroke="#1a1a1a" stroke-width="0.15">-20</text>
<text x="286.5" y="668.7" font-size="10.8" fill="#111" text-anchor="middle">ppm</text>
<text x="74.6" y="433.1" font-size="11.5" fill="#111" textLength="64.8" lengthAdjust="spacingAndGlyphs">surface C=O</text>
<text x="57.6" y="570.2" font-size="11.4" fill="#111" textLength="21.6" lengthAdjust="spacingAndGlyphs">C=O</text>
<text x="178" y="538" font-size="11.5" fill="#111">C sp<tspan font-size="7.5" dy="-4.5">2</tspan></text>
<text x="297.9" y="548.2" font-size="11.5" fill="#111" textLength="19.2" lengthAdjust="spacingAndGlyphs">C-O</text>
<text x="326.9" y="515.6" font-size="11.5" fill="#2040f0" textLength="17.2" lengthAdjust="spacingAndGlyphs">Gly</text>
<text x="326.9" y="530.9" font-size="11.5" fill="#2040f0">CH<tspan font-size="7.5" dy="3">2</tspan></text>
<text x="379.8" y="537.7" font-size="11.4" fill="#111" textLength="31.3" lengthAdjust="spacingAndGlyphs">C-C-O</text>
<path d="M380.1 539.9H387.2" stroke="#111" stroke-width="0.9"/>
<text x="0" y="0" font-size="11.5" fill="#111" transform="translate(435.3 496.5) scale(0.94 1)">CH<tspan font-size="7.5" dy="3">3</tspan></text>
<path d="M102.5 692.5V1005.3H522M102.5 1005.2H96.0M102.5 960.6H99.0M102.5 916.0H96.0M102.5 871.4H99.0M102.5 826.8H96.0M102.5 782.2H99.0M102.5 737.6H96.0M102.5 693.0H99.0M122.2 1005.3V1008.6M157.2 1005.3V1011.6M192.2 1005.3V1008.6M227.2 1005.3V1011.6M262.3 1005.3V1008.6M297.3 1005.3V1011.6M332.3 1005.3V1008.6M367.3 1005.3V1011.6M402.3 1005.3V1008.6M437.4 1005.3V1011.6M472.4 1005.3V1008.6M507.4 1005.3V1011.6" stroke="#111" stroke-width="1.3" fill="none"/>
<text x="92.2" y="1009.5" font-size="12.1" fill="#111" text-anchor="end">0</text>
<text x="92.2" y="920.3" font-size="12.1" fill="#111" text-anchor="end">500000</text>
<text x="92.2" y="831.1" font-size="12.1" fill="#111" text-anchor="end">1000000</text>
<text x="92.2" y="741.9" font-size="12.1" fill="#111" text-anchor="end">1500000</text>
<text x="157.2" y="1025.2" font-size="12.2" fill="#111" text-anchor="middle">300</text>
<text x="227.2" y="1025.2" font-size="12.2" fill="#111" text-anchor="middle">375</text>
<text x="297.3" y="1025.2" font-size="12.2" fill="#111" text-anchor="middle">450</text>
<text x="367.3" y="1025.2" font-size="12.2" fill="#111" text-anchor="middle">525</text>
<text x="437.4" y="1025.2" font-size="12.2" fill="#111" text-anchor="middle">600</text>
<text x="507.4" y="1025.2" font-size="12.2" fill="#111" text-anchor="middle">675</text>
<text x="255.7" y="1042.4" font-size="15.2" fill="#111" textLength="113.2" lengthAdjust="spacingAndGlyphs">Wavelength (nm)</text>
<text x="35" y="952.4" font-size="15" fill="#111" textLength="187" lengthAdjust="spacingAndGlyphs" transform="rotate(-90 35 952.4)">Intensity (CPS / MicroAmps)</text>
<text x="0" y="0" font-size="24" fill="#000" font-weight="bold" transform="translate(14.4 719.6) scale(0.95 1)">c</text>
<path d="M157.7 977.2L159.2 971.6L160.7 961.1L162.2 942.4L163.7 927.1L165.2 919.5L166.7 921.3L168.2 925.0L169.7 935.6L171.2 943.0L172.7 953.4L174.2 949.6L175.7 945.1L177.2 945.7L178.7 943.0L180.2 942.8L181.7 942.3L183.2 939.0L184.7 938.2L186.2 934.7L187.7 935.4L189.2 931.9L190.7 932.6L192.2 928.7L193.7 928.6L195.2 924.5L196.7 925.9L198.2 921.4L199.7 922.3L201.2 917.9L202.7 919.3L204.2 915.6L205.7 913.3L207.2 911.5L208.7 910.1L210.2 907.8L211.7 911.1L213.2 907.3L214.7 908.5L216.2 906.5L217.7 906.2L219.2 907.0L220.7 904.1L222.2 904.6L223.7 901.3L225.2 899.9L226.7 898.6L228.2 895.9L229.7 898.3L231.2 896.8L232.7 895.3L234.2 890.8L235.7 886.2L237.2 885.9L238.7 883.6L240.2 878.4L241.7 878.1L243.2 875.5L244.7 875.7L246.2 870.1L247.7 866.8L249.2 864.9L250.7 865.7L252.2 865.0L253.7 858.8L255.2 854.7L256.7 854.9L258.2 853.9L259.7 851.9L261.2 850.3L262.7 846.9L264.2 843.5L265.7 845.3L267.2 838.9L268.7 841.4L270.2 835.4L271.7 836.8L273.2 833.6L274.7 834.5L276.2 828.9L277.7 826.9L279.2 824.4L280.7 826.4L282.2 818.8L283.7 817.4L285.2 815.5L286.7 812.9L288.2 807.7L289.7 810.1L291.2 802.6L292.7 805.4L294.2 802.2L295.7 804.8L297.2 798.3L298.7 795.7L300.2 796.0L301.7 798.7L303.2 793.0L304.7 795.9L306.2 791.2L307.7 794.8L309.2 793.2L310.7 795.2L312.2 791.8L313.7 794.6L315.2 790.8L316.7 792.2L318.2 785.0L319.7 774.5L321.2 778.4L322.7 787.0L324.2 789.3L325.7 787.3L327.2 789.8L328.7 787.6L330.2 789.0L331.7 784.5L333.2 787.0L334.7 787.5L336.2 789.7L337.7 786.8L339.2 789.6L340.7 794.5L342.2 794.0L343.7 795.3L345.2 792.6L346.7 795.0L348.2 795.3L349.7 800.2L351.2 799.5L352.7 803.6L354.2 800.9L355.7 807.8L357.2 810.1L358.7 812.2L360.2 812.4L361.7 817.2L363.2 817.6L364.7 821.4L366.2 822.1L367.7 822.3L369.2 820.4L370.7 821.5L372.2 826.0L373.7 829.1L375.2 830.0L376.7 833.1L378.2 832.8L379.7 836.2L381.2 834.2L382.7 840.6L384.2 839.9L385.7 841.6L387.2 843.7L388.7 850.3L390.2 850.1" stroke="#000000" stroke-width="1.65" fill="none" stroke-linejoin="round"/>
<path d="M166.5 990.5L168.0 989.3L169.5 987.1L171.0 984.4L172.5 982.7L174.0 979.7L175.5 979.2L177.0 976.2L178.5 974.6L180.0 971.5L181.5 967.9L183.0 965.2L184.5 958.7L186.0 936.2L187.5 922.2L189.0 918.7L190.5 925.3L192.0 932.2L193.5 939.8L195.0 944.5L196.5 945.1L198.0 939.7L199.5 938.6L201.0 934.7L202.5 930.5L204.0 931.4L205.5 925.5L207.0 920.0L208.5 916.4L210.0 915.5L211.5 912.9L213.0 907.6L214.5 909.3L216.0 907.8L217.5 904.0L219.0 902.4L220.5 898.7L222.0 899.3L223.5 895.0L225.0 891.9L226.5 894.2L228.0 889.3L229.5 889.8L231.0 883.9L232.5 884.1L234.0 878.8L235.5 877.8L237.0 874.1L238.5 869.9L240.0 867.4L241.5 864.9L243.0 859.1L244.5 858.6L246.0 857.1L247.5 852.1L249.0 848.0L250.5 848.1L252.0 845.7L253.5 840.2L255.0 842.9L256.5 839.5L258.0 837.9L259.5 841.6L261.0 837.6L262.5 834.0L264.0 830.6L265.5 832.7L267.0 829.8L268.5 826.1L270.0 824.8L271.5 825.9L273.0 823.8L274.5 824.3L276.0 820.8L277.5 820.4L279.0 818.8L280.5 814.7L282.0 814.3L283.5 816.3L285.0 813.1L286.5 815.4L288.0 814.0L289.5 813.5L291.0 814.7L292.5 809.7L294.0 809.3L295.5 811.3L297.0 808.4L298.5 810.5L300.0 808.1L301.5 809.9L303.0 812.2L304.5 810.3L306.0 806.3L307.5 809.8L309.0 809.3L310.5 810.0L312.0 806.5L313.5 810.4L315.0 810.5L316.5 812.7L318.0 807.7L319.5 810.1L321.0 808.3L322.5 811.7L324.0 809.1L325.5 815.5L327.0 812.4L328.5 814.5L330.0 814.1L331.5 814.9L333.0 811.1L334.5 816.0L336.0 812.8L337.5 813.0L339.0 819.6L340.5 818.2L342.0 820.5L343.5 821.9L345.0 822.9L346.5 826.9L348.0 823.7L349.5 828.1L351.0 829.3L352.5 833.0L354.0 835.6L355.5 834.5L357.0 836.4L358.5 838.0L360.0 839.1L361.5 839.1L363.0 840.1L364.5 844.4L366.0 844.9L367.5 848.3L369.0 849.3L370.5 853.1L372.0 854.7L373.5 855.4L375.0 856.1L376.5 858.7L378.0 860.2L379.5 865.3L381.0 863.2L382.5 868.2L384.0 865.9L385.5 871.8L387.0 870.0L388.5 875.8L390.0 877.4L391.5 876.7L393.0 878.6L394.5 880.9L396.0 882.4L397.5 881.9L399.0 883.6L400.5 887.4L402.0 886.7L403.5 889.9L405.0 888.1L406.5 894.6L408.0 896.5L409.5 900.8L411.0 894.9L412.5 899.0L414.0 899.0L415.5 907.5L417.0 907.9L418.5 907.7L420.0 905.9L421.5 913.4L423.0 912.3L424.5 920.5L426.0 910.3L427.5 920.1L429.0 924.5L430.5 923.4L432.0 924.8L433.5 930.8L435.0 931.2L436.5 931.9L438.0 932.0L439.5 939.1L441.0 938.1L442.5 941.4L444.0 943.3L445.5 945.5L447.0 945.4L448.5 948.5L450.0 949.5L451.5 950.8L453.0 951.9L454.5 952.5L456.0 955.0L457.5 958.1L459.0 956.0L460.5 959.4L462.0 960.6L463.5 960.6L465.0 961.1L466.5 961.6L468.0 962.1L469.5 965.1L471.0 963.3L472.5 964.2L474.0 965.2L475.5 968.6L477.0 966.9L478.5 969.7L480.0 968.4L481.5 970.2L483.0 971.3L484.5 970.5" stroke="#11ee11" stroke-width="1.65" fill="none" stroke-linejoin="round"/>
<path d="M185.6 992.9L187.1 992.0L188.6 987.5L190.1 987.0L191.6 985.4L193.1 984.0L194.6 983.7L196.1 980.6L197.6 978.5L199.1 975.9L200.6 973.0L202.1 968.5L203.6 965.2L205.1 959.2L206.6 947.4L208.1 935.9L209.6 925.0L211.1 915.6L212.6 911.0L214.1 912.0L215.6 918.6L217.1 918.9L218.6 918.7L220.1 918.4L221.6 917.3L223.1 910.2L224.6 904.0L226.1 901.0L227.6 899.0L229.1 895.2L230.6 893.1L232.1 886.8L233.6 880.6L235.1 877.4L236.6 871.9L238.1 867.2L239.6 859.1L241.1 856.1L242.6 856.2L244.1 849.5L245.6 849.0L247.1 841.5L248.6 838.8L250.1 831.2L251.6 828.7L253.1 823.2L254.6 823.9L256.1 819.8L257.6 816.9L259.1 812.4L260.6 811.2L262.1 813.2L263.6 811.5L265.1 805.8L266.6 801.8L268.1 797.0L269.6 798.7L271.1 792.4L272.6 790.5L274.1 791.0L275.6 788.2L277.1 782.5L278.6 784.9L280.1 784.8L281.6 781.3L283.1 781.4L284.6 785.9L286.1 782.6L287.6 786.3L289.1 784.3L290.6 785.1L292.1 784.6L293.6 782.3L295.1 786.9L296.6 783.7L298.1 781.1L299.6 780.4L301.1 778.0L302.6 786.5L304.1 787.6L305.6 787.7L307.1 784.7L308.6 790.9L310.1 790.1L311.6 787.8L313.1 786.5L314.6 792.7L316.1 788.0L317.6 793.1L319.1 794.8L320.6 796.0L322.1 795.0L323.6 798.5L325.1 795.7L326.6 801.0L328.1 798.2L329.6 799.5L331.1 801.6L332.6 801.3L334.1 804.5L335.6 808.9L337.1 808.6L338.6 813.9L340.1 812.0L341.6 815.7L343.1 815.1L344.6 815.2L346.1 815.1L347.6 819.6L349.1 819.0L350.6 824.7L352.1 825.4L353.6 828.9L355.1 832.5L356.6 833.9L358.1 836.6L359.6 839.7L361.1 838.3L362.6 844.3L364.1 844.0L365.6 847.6L367.1 846.6L368.6 854.3L370.1 851.6L371.6 856.2L373.1 856.9L374.6 860.8L376.1 859.1L377.6 864.3L379.1 865.5L380.6 868.6L382.1 867.8L383.6 872.2L385.1 871.9L386.6 876.4L388.1 875.3L389.6 878.5L391.1 880.6L392.6 886.1L394.1 887.7L395.6 886.5L397.1 889.5L398.6 896.5L400.1 895.5L401.6 901.3L403.1 900.3L404.6 906.1L406.1 903.8L407.6 909.1L409.1 910.4L410.6 912.3L412.1 914.5L413.6 914.6L415.1 916.8L416.6 918.8L418.1 919.8L419.6 924.7L421.1 926.8L422.6 924.4L424.1 926.4L425.6 930.4L427.1 928.2L428.6 932.8L430.1 931.4L431.6 935.7L433.1 934.7L434.6 938.1L436.1 940.3L437.6 941.0L439.1 942.4L440.6 944.6L442.1 943.4L443.6 947.9L445.1 949.3L446.6 950.1L448.1 951.6L449.6 953.7L451.1 951.6L452.6 954.6L454.1 954.8L455.6 958.7L457.1 957.9L458.6 959.3L460.1 961.4L461.6 962.1L463.1 961.6L464.6 963.8L466.1 963.4L467.6 965.1L469.1 967.2L470.6 967.7L472.1 966.9L473.6 969.0L475.1 969.2L476.6 968.8L478.1 969.0L479.6 971.8L481.1 972.7L482.6 970.8L484.1 971.0" stroke="#ff40ff" stroke-width="1.65" fill="none" stroke-linejoin="round"/>
<path d="M203.6 988.5L205.1 986.9L206.6 986.1L208.1 982.8L209.6 981.5L211.1 977.8L212.6 977.2L214.1 973.0L215.6 968.0L217.1 964.4L218.6 960.1L220.1 957.4L221.6 954.5L223.1 948.6L224.6 943.9L226.1 938.3L227.6 935.6L229.1 928.2L230.6 918.8L232.1 906.9L233.6 898.4L235.1 889.5L236.6 884.1L238.1 877.8L239.6 876.9L241.1 870.5L242.6 869.0L244.1 862.3L245.6 857.4L247.1 852.9L248.6 847.3L250.1 842.4L251.6 838.3L253.1 829.9L254.6 827.2L256.1 819.8L257.6 815.4L259.1 807.6L260.6 807.3L262.1 800.3L263.6 798.2L265.1 791.7L266.6 791.7L268.1 783.8L269.6 783.2L271.1 777.8L272.6 777.2L274.1 770.6L275.6 771.7L277.1 766.3L278.6 763.3L280.1 759.3L281.6 762.7L283.1 757.8L284.6 759.3L286.1 755.2L287.6 756.4L289.1 749.4L290.6 750.7L292.1 750.5L293.6 751.9L295.1 749.4L296.6 753.9L298.1 749.4L299.6 755.2L301.1 750.0L302.6 757.3L304.1 753.3L305.6 757.4L307.1 752.9L308.6 756.4L310.1 753.0L311.6 759.1L313.1 760.0L314.6 761.1L316.1 758.7L317.6 761.5L319.1 758.7L320.6 759.3L322.1 766.4L323.6 767.2L325.1 764.9L326.6 770.6L328.1 770.4L329.6 772.7L331.1 777.9L332.6 773.0L334.1 772.8L335.6 780.4L337.1 782.6L338.6 790.0L340.1 788.0L341.6 793.9L343.1 793.5L344.6 797.8L346.1 797.0L347.6 803.1L349.1 803.3L350.6 809.3L352.1 807.7L353.6 817.4L355.1 815.1L356.6 820.2L358.1 820.3L359.6 823.4L361.1 825.8L362.6 828.2L364.1 829.2L365.6 835.8L367.1 836.0L368.6 840.7L370.1 841.6L371.6 846.1L373.1 846.6L374.6 850.8L376.1 852.4L377.6 855.1L379.1 857.0L380.6 862.8L382.1 864.5L383.6 863.6L385.1 868.1L386.6 872.8L388.1 872.3L389.6 878.9L391.1 879.3L392.6 883.5L394.1 884.9L395.6 883.7L397.1 889.4L398.6 890.6L400.1 890.1L401.6 896.3L403.1 894.1L404.6 896.6L406.1 899.6L407.6 903.5L409.1 905.6L410.6 909.0L412.1 909.7L413.6 912.8L415.1 915.8L416.6 915.7L418.1 918.9L419.6 919.9L421.1 920.3L422.6 924.3L424.1 924.1L425.6 926.2L427.1 928.2L428.6 927.8L430.1 929.7L431.6 932.3L433.1 932.0L434.6 935.2L436.1 936.4L437.6 937.0L439.1 941.8L440.6 941.8L442.1 943.5L443.6 944.5L445.1 946.2L446.6 947.3L448.1 949.5L449.6 950.5L451.1 950.9L452.6 954.2L454.1 954.1L455.6 956.8L457.1 955.9L458.6 957.4L460.1 959.7L461.6 960.6L463.1 959.9L464.6 962.6L466.1 961.0L467.6 965.0L469.1 963.2L470.6 965.5L472.1 965.5L473.6 968.2L475.1 966.5L476.6 969.1L478.1 969.7L479.6 970.9L481.1 970.1L482.6 970.5L484.1 971.3" stroke="#ffee00" stroke-width="1.65" fill="none" stroke-linejoin="round"/>
<path d="M222.5 992.6L224.0 988.0L225.5 985.5L227.0 982.6L228.5 980.7L230.0 976.0L231.5 971.9L233.0 966.1L234.5 960.0L236.0 955.3L237.5 950.3L239.0 944.3L240.5 939.7L242.0 931.5L243.5 924.4L245.0 916.4L246.5 910.8L248.0 904.0L249.5 899.4L251.0 891.8L252.5 885.2L254.0 872.0L255.5 861.9L257.0 848.7L258.5 841.7L260.0 831.9L261.5 827.7L263.0 818.3L264.5 823.3L266.0 820.9L267.5 813.0L269.0 806.9L270.5 804.2L272.0 796.5L273.5 791.2L275.0 786.4L276.5 784.0L278.0 774.7L279.5 772.9L281.0 763.7L282.5 765.1L284.0 761.8L285.5 755.4L287.0 749.8L288.5 750.7L290.0 746.4L291.5 747.5L293.0 742.3L294.5 743.9L296.0 736.3L297.5 738.3L299.0 733.7L300.5 739.7L302.0 733.4L303.5 734.6L305.0 731.6L306.5 736.4L308.0 733.6L309.5 738.1L311.0 739.0L312.5 739.7L314.0 734.9L315.5 739.0L317.0 733.9L318.5 738.1L320.0 736.1L321.5 737.8L323.0 738.9L324.5 740.7L326.0 741.6L327.5 747.5L329.0 748.5L330.5 747.1L332.0 747.2L333.5 751.0L335.0 754.5L336.5 759.2L338.0 760.5L339.5 764.5L341.0 772.1L342.5 774.7L344.0 770.2L345.5 779.4L347.0 779.0L348.5 779.4L350.0 782.5L351.5 792.2L353.0 791.3L354.5 795.0L356.0 798.2L357.5 801.8L359.0 802.3L360.5 809.3L362.0 813.4L363.5 812.2L365.0 817.3L366.5 825.6L368.0 826.9L369.5 828.4L371.0 827.7L372.5 830.9L374.0 836.3L375.5 838.5L377.0 839.1L378.5 846.3L380.0 845.7L381.5 849.9L383.0 851.0L384.5 857.6L386.0 856.9L387.5 862.0L389.0 861.9L390.5 864.8L392.0 866.9L393.5 871.4L395.0 872.6L396.5 877.1L398.0 877.6L399.5 880.4L401.0 882.4L402.5 887.1L404.0 886.5L405.5 892.4L407.0 892.1L408.5 895.5L410.0 895.3L411.5 899.6L413.0 894.9L414.5 904.2L416.0 903.3L417.5 909.5L419.0 909.9L420.5 911.5L422.0 913.0L423.5 914.4L425.0 916.3L426.5 919.9L428.0 922.5L429.5 924.6L431.0 923.9L432.5 928.0L434.0 928.3L435.5 929.0L437.0 931.3L438.5 937.1L440.0 937.1L441.5 941.1L443.0 942.0L444.5 944.3L446.0 943.0L447.5 944.7L449.0 946.5L450.5 949.6L452.0 949.9L453.5 952.3L455.0 952.2L456.5 955.3L458.0 956.5L459.5 957.5L461.0 956.9L462.5 960.1L464.0 959.4L465.5 961.8L467.0 960.4L468.5 964.7L470.0 960.3L471.5 963.6L473.0 964.8L474.5 967.6L476.0 966.4L477.5 966.5L479.0 970.2L480.5 971.1L482.0 970.6L483.5 971.0" stroke="#ff0000" stroke-width="1.65" fill="none" stroke-linejoin="round"/>
<path d="M241.5 981.6L243.0 978.6L244.5 978.1L246.0 973.6L247.5 970.5L249.0 964.5L250.5 961.6L252.0 955.6L253.5 951.4L255.0 944.8L256.5 939.3L258.0 932.8L259.5 927.3L261.0 918.9L262.5 914.0L264.0 905.5L265.5 900.3L267.0 892.3L268.5 886.8L270.0 880.2L271.5 873.7L273.0 866.9L274.5 860.2L276.0 852.3L277.5 847.0L279.0 838.2L280.5 832.5L282.0 826.7L283.5 823.0L285.0 815.6L286.5 813.7L288.0 806.4L289.5 807.8L291.0 800.5L292.5 801.5L294.0 796.9L295.5 795.2L297.0 791.1L298.5 787.7L300.0 781.7L301.5 781.7L303.0 779.2L304.5 779.1L306.0 776.9L307.5 773.9L309.0 767.3L310.5 767.6L312.0 767.4L313.5 769.2L315.0 762.8L316.5 762.2L318.0 763.8L319.5 761.1L321.0 758.9L322.5 756.7L324.0 757.9L325.5 764.9L327.0 761.1L328.5 762.3L330.0 758.7L331.5 764.2L333.0 762.0L334.5 766.8L336.0 764.4L337.5 766.9L339.0 770.8L340.5 773.0L342.0 776.8L343.5 779.6L345.0 779.0L346.5 784.7L348.0 785.2L349.5 790.5L351.0 788.3L352.5 794.7L354.0 795.1L355.5 799.9L357.0 804.9L358.5 805.6L360.0 803.8L361.5 808.7L363.0 814.1L364.5 817.1L366.0 816.9L367.5 822.2L369.0 823.6L370.5 827.4L372.0 831.3L373.5 833.6L375.0 835.4L376.5 838.3L378.0 839.6L379.5 844.6L381.0 843.7L382.5 847.9L384.0 852.2L385.5 850.9L387.0 854.3L388.5 857.5L390.0 859.0L391.5 861.2L393.0 867.3L394.5 866.3L396.0 869.3L397.5 874.6L399.0 876.4L400.5 880.7L402.0 880.9L403.5 883.7L405.0 885.6L406.5 888.5L408.0 890.8L409.5 894.8L411.0 895.4L412.5 899.4L414.0 903.6L415.5 900.8L417.0 904.0L418.5 908.2L420.0 907.6L421.5 911.5L423.0 911.8L424.5 915.9L426.0 917.3L427.5 919.8L429.0 918.7L430.5 920.9L432.0 925.6L433.5 927.4L435.0 927.2L436.5 931.3L438.0 933.3L439.5 936.5L441.0 936.3L442.5 939.2L444.0 939.8L445.5 944.4L447.0 946.3L448.5 945.6L450.0 946.4L451.5 948.5L453.0 950.2L454.5 952.4L456.0 951.9L457.5 954.2L459.0 954.4L460.5 955.5L462.0 957.1L463.5 959.7L465.0 959.2L466.5 961.3L468.0 960.8L469.5 961.6L471.0 963.3L472.5 964.9L474.0 964.3L475.5 967.3L477.0 967.3L478.5 968.7L480.0 969.9L481.5 970.2L483.0 970.7L484.5 970.7" stroke="#00eeff" stroke-width="1.65" fill="none" stroke-linejoin="round"/>
<path d="M259.6 981.5L261.1 977.5L262.6 976.6L264.1 972.5L265.6 970.8L267.1 966.1L268.6 963.3L270.1 959.1L271.6 956.2L273.1 950.9L274.6 947.7L276.1 940.7L277.6 935.5L279.1 927.4L280.6 923.7L282.1 916.7L283.6 911.3L285.1 908.4L286.6 903.8L288.1 897.4L289.6 894.6L291.1 890.7L292.6 884.3L294.1 879.4L295.6 874.4L297.1 870.3L298.6 863.0L300.1 859.1L301.6 853.1L303.1 847.0L304.6 842.8L306.1 836.2L307.6 833.2L309.1 832.6L310.6 829.9L312.1 825.6L313.6 828.8L315.1 824.2L316.6 825.1L318.1 823.5L319.6 823.0L321.1 821.1L322.6 818.7L324.1 814.8L325.6 817.7L327.1 815.7L328.6 815.1L330.1 812.5L331.6 812.5L333.1 810.9L334.6 814.0L336.1 811.3L337.6 814.5L339.1 814.3L340.6 815.0L342.1 810.5L343.6 814.0L345.1 815.4L346.6 818.2L348.1 815.3L349.6 820.2L351.1 818.7L352.6 821.9L354.1 822.4L355.6 825.5L357.1 825.0L358.6 831.9L360.1 827.5L361.6 834.0L363.1 836.2L364.6 835.9L366.1 839.5L367.6 841.5L369.1 838.9L370.6 845.2L372.1 846.2L373.6 846.9L375.1 849.2L376.6 851.1L378.1 853.1L379.6 858.4L381.1 858.0L382.6 862.1L384.1 859.9L385.6 864.7L387.1 869.9L388.6 871.1L390.1 872.9L391.6 877.4L393.1 876.0L394.6 877.3L396.1 879.7L397.6 885.6L399.1 885.5L400.6 891.3L402.1 889.4L403.6 890.1L405.1 897.0L406.6 899.4L408.1 897.8L409.6 903.3L411.1 902.7L412.6 908.8L414.1 907.3L415.6 910.3L417.1 910.6L418.6 914.9L420.1 917.9L421.6 916.9L423.1 921.9L424.6 923.1L426.1 924.5L427.6 926.6L429.1 925.9L430.6 930.1L432.1 930.6L433.6 934.1L435.1 933.5L436.6 934.8L438.1 937.0L439.6 941.6L441.1 940.6L442.6 945.3L444.1 942.5L445.6 946.9L447.1 946.6L448.6 948.2L450.1 949.3L451.6 952.7L453.1 952.5L454.6 954.0L456.1 956.2L457.6 957.7L459.1 959.3L460.6 960.1L462.1 959.2L463.6 961.5L465.1 961.7L466.6 961.5L468.1 962.7L469.6 965.8L471.1 966.7L472.6 967.3L474.1 966.1L475.6 968.4L477.1 968.0L478.6 968.5L480.1 970.8L481.6 972.3L483.1 970.3" stroke="#ff2277" stroke-width="1.65" fill="none" stroke-linejoin="round"/>
<path d="M279.2 983.8L280.7 979.6L282.2 978.5L283.7 975.6L285.2 970.2L286.7 966.9L288.2 962.1L289.7 960.2L291.2 957.2L292.7 953.2L294.2 947.9L295.7 943.5L297.2 941.7L298.7 934.4L300.2 930.5L301.7 926.3L303.2 923.9L304.7 917.7L306.2 918.0L307.7 911.3L309.2 910.9L310.7 905.1L312.2 904.0L313.7 898.2L315.2 898.5L316.7 893.3L318.2 889.3L319.7 886.0L321.2 887.4L322.7 881.5L324.2 881.7L325.7 877.9L327.2 876.7L328.7 871.6L330.2 870.1L331.7 864.7L333.2 866.4L334.7 862.6L336.2 860.4L337.7 859.0L339.2 857.6L340.7 857.3L342.2 859.6L343.7 859.6L345.2 860.0L346.7 855.9L348.2 857.1L349.7 859.4L351.2 860.8L352.7 857.6L354.2 862.2L355.7 857.9L357.2 862.4L358.7 860.6L360.2 861.0L361.7 861.2L363.2 862.5L364.7 860.8L366.2 862.4L367.7 862.8L369.2 866.3L370.7 864.2L372.2 869.2L373.7 867.9L375.2 868.3L376.7 871.0L378.2 874.3L379.7 872.9L381.2 879.9L382.7 879.3L384.2 883.0L385.7 882.0L387.2 885.9L388.7 885.0L390.2 887.5L391.7 886.5L393.2 888.1L394.7 891.2L396.2 893.6L397.7 900.1L399.2 902.4L400.7 901.6L402.2 903.8L403.7 904.6L405.2 908.5L406.7 908.5L408.2 912.1L409.7 914.8L411.2 912.5L412.7 917.1L414.2 917.4L415.7 918.1L417.2 921.7L418.7 922.9L420.2 923.0L421.7 925.8L423.2 930.2L424.7 929.6L426.2 934.7L427.7 930.4L429.2 935.7L430.7 934.8L432.2 938.6L433.7 940.6L435.2 942.8L436.7 941.1L438.2 945.5L439.7 944.9L441.2 950.0L442.7 947.0L444.2 947.9L445.7 952.2L447.2 953.3L448.7 953.6L450.2 956.0L451.7 957.0L453.2 958.7L454.7 959.1L456.2 962.0L457.7 961.8L459.2 961.8L460.7 963.9L462.2 962.5L463.7 966.1L465.2 967.4L466.7 965.6L468.2 969.1L469.7 968.3L471.2 969.0L472.7 969.5L474.2 970.6L475.7 970.1L477.2 973.7L478.7 972.1L480.2 972.4L481.7 975.3L483.2 974.7" stroke="#118811" stroke-width="1.65" fill="none" stroke-linejoin="round"/>
<path d="M297.3 986.0L298.8 981.9L300.3 980.9L301.8 978.3L303.3 976.0L304.8 972.6L306.3 969.8L307.8 964.6L309.3 963.9L310.8 959.3L312.3 957.2L313.8 955.7L315.3 950.8L316.8 948.4L318.3 945.1L319.8 944.1L321.3 943.0L322.8 938.7L324.3 936.4L325.8 933.4L327.3 932.9L328.8 930.4L330.3 928.3L331.8 924.8L333.3 924.3L334.8 922.7L336.3 921.3L337.8 918.8L339.3 915.4L340.8 914.6L342.3 911.9L343.8 910.7L345.3 911.3L346.8 910.8L348.3 906.1L349.8 905.1L351.3 905.6L352.8 902.4L354.3 903.2L355.8 897.4L357.3 897.5L358.8 894.0L360.3 896.4L361.8 898.6L363.3 897.6L364.8 902.0L366.3 897.9L367.8 898.4L369.3 902.6L370.8 901.0L372.3 904.8L373.8 904.4L375.3 904.2L376.8 903.1L378.3 904.6L379.8 905.1L381.3 906.4L382.8 906.6L384.3 907.0L385.8 907.4L387.3 911.5L388.8 911.5L390.3 913.1L391.8 915.9L393.3 915.8L394.8 915.3L396.3 919.9L397.8 918.2L399.3 920.1L400.8 921.7L402.3 925.2L403.8 923.0L405.3 923.3L406.8 924.1L408.3 927.6L409.8 926.6L411.3 931.4L412.8 930.0L414.3 931.8L415.8 931.3L417.3 933.7L418.8 935.1L420.3 937.8L421.8 938.1L423.3 939.4L424.8 943.6L426.3 943.4L427.8 943.8L429.3 945.7L430.8 945.9L432.3 948.4L433.8 949.3L435.3 948.7L436.8 949.3L438.3 953.9L439.8 954.3L441.3 954.7L442.8 955.2L444.3 958.1L445.8 959.4L447.3 960.7L448.8 962.0L450.3 962.7L451.8 964.6L453.3 965.5L454.8 964.5L456.3 967.0L457.8 965.9L459.3 967.7L460.8 967.7L462.3 970.0L463.8 969.0L465.3 969.4L466.8 972.0L468.3 972.0L469.8 971.6L471.3 973.1L472.8 972.2L474.3 973.9L475.8 973.6L477.3 975.4L478.8 976.3L480.3 977.3L481.8 976.0L483.3 978.6" stroke="#ff8000" stroke-width="1.65" fill="none" stroke-linejoin="round"/>
<path d="M316.4 987.6L317.9 984.4L319.4 983.0L320.9 980.6L322.4 978.2L323.9 975.6L325.4 974.9L326.9 971.5L328.4 971.2L329.9 966.6L331.4 966.4L332.9 962.1L334.4 959.9L335.9 960.7L337.4 958.1L338.9 954.4L340.4 955.4L341.9 950.9L343.4 949.5L344.9 947.6L346.4 948.1L347.9 945.3L349.4 942.0L350.9 941.3L352.4 943.1L353.9 938.8L355.4 939.2L356.9 936.2L358.4 937.7L359.9 937.4L361.4 935.8L362.9 935.2L364.4 934.5L365.9 932.8L367.4 934.3L368.9 932.3L370.4 933.3L371.9 930.1L373.4 931.7L374.9 931.7L376.4 930.8L377.9 929.0L379.4 930.5L380.9 927.7L382.4 930.4L383.9 929.3L385.4 930.4L386.9 929.2L388.4 930.8L389.9 931.6L391.4 932.5L392.9 932.2L394.4 933.7L395.9 933.3L397.4 932.8L398.9 937.1L400.4 938.3L401.9 940.3L403.4 940.3L404.9 939.8L406.4 942.3L407.9 941.0L409.4 940.5L410.9 942.4L412.4 945.3L413.9 944.1L415.4 945.4L416.9 946.4L418.4 947.8L419.9 947.9L421.4 951.2L422.9 952.7L424.4 953.5L425.9 951.3L427.4 955.3L428.9 956.7L430.4 956.0L431.9 956.1L433.4 957.8L434.9 958.7L436.4 960.3L437.9 960.3L439.4 960.6L440.9 964.8L442.4 964.5L443.9 963.7L445.4 966.4L446.9 966.8L448.4 967.5L449.9 970.1L451.4 970.2L452.9 970.2L454.4 972.4L455.9 973.3L457.4 973.9L458.9 972.9L460.4 974.0L461.9 976.6L463.4 976.9L464.9 975.6L466.4 977.9L467.9 976.4L469.4 978.9L470.9 977.7L472.4 978.4L473.9 980.2L475.4 980.1L476.9 980.2L478.4 981.1L479.9 982.0L481.4 983.5L482.9 981.7L484.4 981.9" stroke="#c0c0c0" stroke-width="1.65" fill="none" stroke-linejoin="round"/>
<path d="M334.5 990.1L336.0 987.2L337.5 987.5L339.0 984.4L340.5 984.1L342.0 982.1L343.5 982.3L345.0 979.3L346.5 978.9L348.0 977.1L349.5 976.6L351.0 974.5L352.5 970.5L354.0 969.6L355.5 969.0L357.0 965.7L358.5 966.8L360.0 964.1L361.5 962.9L363.0 962.6L364.5 963.1L366.0 960.4L367.5 960.4L369.0 959.6L370.5 959.5L372.0 959.2L373.5 957.4L375.0 958.2L376.5 958.2L378.0 957.7L379.5 957.8L381.0 955.4L382.5 956.8L384.0 955.2L385.5 955.7L387.0 955.5L388.5 955.7L390.0 953.7L391.5 956.0L393.0 953.2L394.5 955.1L396.0 954.2L397.5 957.2L399.0 956.6L400.5 954.8L402.0 956.0L403.5 958.2L405.0 955.3L406.5 957.3L408.0 956.5L409.5 957.2L411.0 955.7L412.5 957.1L414.0 955.8L415.5 958.1L417.0 957.3L418.5 960.1L420.0 958.8L421.5 962.5L423.0 963.8L424.5 964.9L426.0 963.7L427.5 963.5L429.0 966.1L430.5 964.2L432.0 967.2L433.5 965.7L435.0 967.5L436.5 966.4L438.0 967.2L439.5 969.6L441.0 967.9L442.5 970.0L444.0 969.7L445.5 971.9L447.0 971.2L448.5 972.1L450.0 972.2L451.5 975.0L453.0 975.5L454.5 976.2L456.0 974.6L457.5 978.2L459.0 975.9L460.5 978.8L462.0 978.6L463.5 979.5L465.0 979.2L466.5 980.4L468.0 979.3L469.5 981.5L471.0 980.2L472.5 982.8L474.0 983.1L475.5 983.6L477.0 983.3L478.5 984.5L480.0 985.5L481.5 986.0L483.0 984.7L484.5 985.0" stroke="#8822ff" stroke-width="1.65" fill="none" stroke-linejoin="round"/>
<path d="M352.7 991.0L354.2 990.3L355.7 990.4L357.2 988.4L358.7 989.1L360.2 986.4L361.7 987.4L363.2 985.4L364.7 985.9L366.2 984.3L367.7 984.1L369.2 982.7L370.7 983.3L372.2 981.7L373.7 981.1L375.2 978.5L376.7 979.9L378.2 975.8L379.7 976.7L381.2 975.0L382.7 976.2L384.2 975.3L385.7 974.8L387.2 972.3L388.7 974.4L390.2 972.2L391.7 974.9L393.2 973.3L394.7 972.1L396.2 972.8L397.7 972.7L399.2 970.2L400.7 970.8L402.2 971.3L403.7 972.6L405.2 971.2L406.7 971.8L408.2 972.3L409.7 971.4L411.2 972.6L412.7 973.2L414.2 972.7L415.7 974.2L417.2 972.7L418.7 974.2L420.2 974.2L421.7 975.0L423.2 974.0L424.7 975.5L426.2 973.6L427.7 975.9L429.2 973.5L430.7 974.0L432.2 974.4L433.7 974.1L435.2 974.1L436.7 976.9L438.2 975.3L439.7 976.1L441.2 976.8L442.7 978.1L444.2 979.4L445.7 978.9L447.2 980.6L448.7 981.3L450.2 980.2L451.7 981.4L453.2 981.1L454.7 982.8L456.2 981.9L457.7 983.4L459.2 983.2L460.7 984.7L462.2 984.8L463.7 985.4L465.2 984.4L466.7 984.9L468.2 985.1L469.7 987.1L471.2 986.3L472.7 987.0L474.2 986.0L475.7 987.6L477.2 985.9L478.7 987.9L480.2 988.8L481.7 989.0L483.2 987.9" stroke="#000088" stroke-width="1.65" fill="none" stroke-linejoin="round"/>
<path d="M467.6 702.6H501.5" stroke="#000000" stroke-width="1.8"/>
<text x="505.1" y="707.8" font-size="14.6" fill="#111">280</text>
<path d="M467.6 720.8H501.5" stroke="#11ee11" stroke-width="1.8"/>
<text x="505.1" y="726.0" font-size="14.6" fill="#111">300</text>
<path d="M467.6 738.9H501.5" stroke="#ff40ff" stroke-width="1.8"/>
<text x="505.1" y="744.1" font-size="14.6" fill="#111">320</text>
<path d="M467.6 757.1H501.5" stroke="#ffee00" stroke-width="1.8"/>
<text x="505.1" y="762.3" font-size="14.6" fill="#111">340</text>
<path d="M467.6 775.2H501.5" stroke="#ff0000" stroke-width="1.8"/>
<text x="505.1" y="780.4" font-size="14.6" fill="#111">360</text>
<path d="M467.6 793.4H501.5" stroke="#00eeff" stroke-width="1.8"/>
<text x="505.1" y="798.6" font-size="14.6" fill="#111">380</text>
<path d="M467.6 811.6H501.5" stroke="#ff2277" stroke-width="1.8"/>
<text x="505.1" y="816.8" font-size="14.6" fill="#111">400</text>
<path d="M467.6 829.7H501.5" stroke="#118811" stroke-width="1.8"/>
<text x="505.1" y="834.9" font-size="14.6" fill="#111">420</text>
<path d="M467.6 847.9H501.5" stroke="#ff8000" stroke-width="1.8"/>
<text x="505.1" y="853.1" font-size="14.6" fill="#111">440</text>
<path d="M467.6 866.0H501.5" stroke="#c0c0c0" stroke-width="1.8"/>
<text x="505.1" y="871.2" font-size="14.6" fill="#111">460</text>
<path d="M467.6 884.2H501.5" stroke="#8822ff" stroke-width="1.8"/>
<text x="505.1" y="889.4" font-size="14.6" fill="#111">480</text>
<path d="M467.6 902.4H501.5" stroke="#000088" stroke-width="1.8"/>
<text x="505.1" y="907.6" font-size="14.6" fill="#111">500</text>
<rect x="4.75" y="3.9" width="542.75" height="1049.9" rx="1.5" stroke="#1e1e1e" stroke-width="1.55" fill="none"/>
<path d="M4.8 291.4H547.5 M4.8 678.8H547.5" stroke="#1e1e1e" stroke-width="1.55" fill="none"/>
</svg></body></html>
